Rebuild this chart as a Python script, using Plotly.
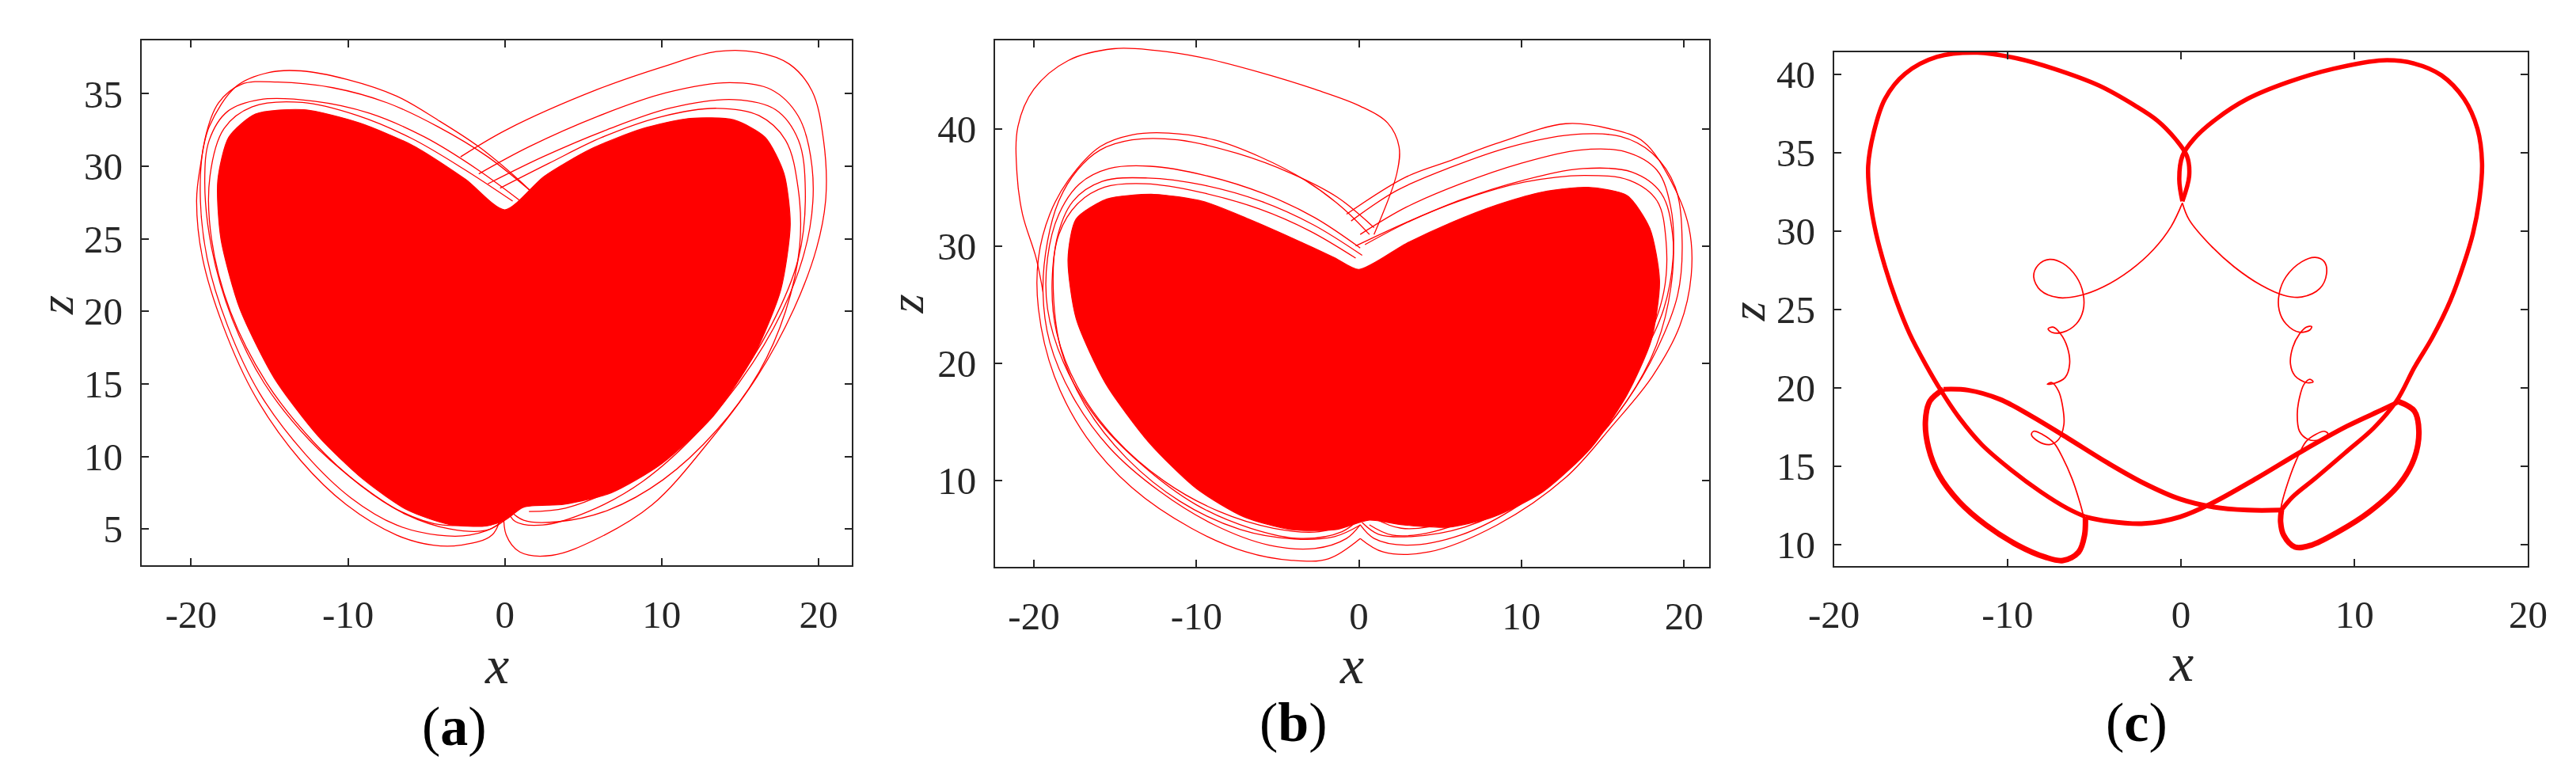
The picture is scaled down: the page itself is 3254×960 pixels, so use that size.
import plotly.graph_objects as go

# ---------------------------------------------------------------------------
# Traced trajectories, (x, z) pairs
# ---------------------------------------------------------------------------

# Panel (a): dense core of the attractor and the outer fringe orbits
a_core = [(0.0, 27.0), (2.5, 29.3), (5.5, 31.2), (8.8, 32.6), (11.8, 33.3), (14.6, 33.2), (16.6, 32.0),
          (17.8, 29.5), (18.2, 26.0), (17.6, 21.5), (15.9, 17.0), (13.3, 12.8), (10.0, 9.5), (6.8, 7.5),
          (3.8, 6.7), (1.2, 6.5), (0.0, 5.6), (-1.2, 5.2), (-3.5, 5.3), (-6.2, 6.3), (-9.0, 8.4),
          (-11.9, 11.4), (-14.7, 15.4), (-16.9, 20.2), (-18.1, 25.0), (-18.3, 29.0), (-17.6, 32.0),
          (-15.9, 33.6), (-12.8, 33.9), (-9.3, 33.0), (-5.8, 31.4), (-2.5, 29.1), (0.0, 27.0)]
a_left0 = [(1.83, 28.1), (0.96, 29.0), (-1.66, 31.35), (-4.28, 33.2), (-6.9, 34.84), (-10.1, 36.0),
           (-13.0, 36.58), (-15.05, 36.47), (-17.09, 35.54), (-18.84, 32.74), (-19.42, 29.95),
           (-19.65, 27.62), (-19.27, 23.66), (-17.96, 19.0), (-15.9, 14.12), (-13.0, 9.7), (-10.1, 6.67),
           (-6.9, 4.58), (-4.57, 3.88), (-2.82, 3.88), (-0.8, 4.6), (-0.06, 6.67)]
a_left1 = [(2.13, 27.85), (-1.08, 30.65), (-4.28, 32.74), (-7.48, 34.37), (-10.98, 35.42), (-14.47, 35.81),
           (-16.8, 35.65), (-18.25, 34.37), (-19.13, 31.81), (-19.42, 28.32), (-18.98, 23.66), (-17.67, 19.0),
           (-15.63, 14.35), (-12.72, 10.16), (-9.81, 7.14), (-6.9, 5.27), (-4.28, 4.58), (-2.24, 4.58),
           (-0.49, 5.27), (0.09, 6.2)]
a_left2 = [(1.54, 27.16), (-1.66, 29.72), (-5.15, 32.04), (-8.65, 33.67), (-12.14, 34.49), (-15.63, 34.6),
           (-17.67, 33.79), (-18.84, 31.81), (-19.13, 29.02), (-18.69, 24.36), (-17.38, 19.47), (-15.34, 15.05),
           (-12.43, 11.09), (-9.52, 8.3), (-6.61, 6.2), (-3.99, 5.27), (-1.66, 5.51), (-0.2, 6.44)]
a_left3 = [(0.5, 27.6), (-2.6, 29.8), (-5.9, 31.9), (-9.4, 33.5), (-12.9, 34.4), (-16.1, 34.1), (-17.9, 32.6),
           (-18.8, 29.3), (-18.7, 25.0), (-17.5, 20.0), (-15.2, 15.1), (-12.2, 11.0), (-9.2, 8.0), (-6.3, 6.0),
           (-3.5, 5.0), (-1.2, 4.9), (0.0, 5.6)]
a_right0 = [(-2.82, 30.65), (0.09, 32.51), (5.91, 35.3), (10.28, 36.93), (13.48, 37.91), (16.1, 37.86),
            (18.14, 37.05), (19.59, 35.19), (20.32, 31.81), (20.47, 27.85), (19.88, 24.36), (18.43, 20.17),
            (16.1, 15.52), (12.9, 10.86), (9.4, 6.67), (5.91, 4.34), (3.0, 3.18), (0.96, 3.41), (0.09, 4.58),
            (-0.06, 6.67)]
a_right1 = [(-1.66, 29.48), (1.54, 31.35), (5.91, 33.44), (10.28, 35.07), (14.35, 35.77), (16.97, 35.3),
            (18.72, 33.44), (19.59, 29.95), (19.45, 25.76), (18.14, 21.1), (15.81, 16.45), (12.61, 12.02),
            (8.82, 8.3), (5.33, 6.2), (2.42, 5.27), (0.67, 5.51), (0.09, 6.44)]
a_right2 = [(-1.08, 28.79), (2.42, 30.65), (6.49, 32.51), (10.57, 34.02), (14.64, 34.6), (17.26, 33.91),
            (18.72, 31.81), (19.16, 28.32), (18.72, 23.66), (16.97, 19.0), (14.35, 14.58), (10.86, 10.63),
            (7.07, 7.83), (3.87, 6.44), (1.54, 6.2)]
a_right3 = [(-0.3, 28.5), (2.8, 30.2), (6.2, 32.0), (9.9, 33.4), (13.5, 34.0), (16.2, 33.5), (17.9, 31.8),
            (18.7, 28.5), (18.8, 24.5), (17.9, 20.0), (16.2, 15.8), (13.5, 11.8), (10.1, 8.4), (6.6, 6.3),
            (3.4, 5.5), (1.2, 5.6), (0.2, 6.4)]

# Panel (b)
b_core = [(0.0, 28.0), (2.9, 30.2), (5.7, 32.0), (8.5, 33.5), (11.3, 34.6), (14.1, 35.0), (16.5, 34.3),
          (17.9, 31.5), (18.5, 27.0), (18.0, 22.0), (16.5, 17.3), (14.3, 12.8), (11.3, 9.0), (8.3, 6.9),
          (5.5, 6.0), (2.7, 6.2), (0.6, 6.6), (-1.4, 5.8), (-4.2, 5.8), (-7.1, 6.9), (-10.0, 9.3),
          (-12.9, 13.2), (-15.6, 18.3), (-17.4, 23.8), (-17.9, 28.9), (-17.4, 32.3), (-15.5, 34.0),
          (-12.6, 34.4), (-9.6, 33.8), (-6.8, 32.3), (-4.0, 30.6), (-1.5, 29.0), (0.0, 28.0)]
b_escape = [(0.93, 30.98), (2.33, 36.17), (2.47, 38.47), (1.77, 40.49), (0.08, 41.93), (-2.72, 43.37),
            (-6.1, 44.81), (-9.75, 46.1), (-12.56, 46.69), (-15.08, 46.83), (-17.89, 45.82), (-20.0, 43.37),
            (-20.98, 40.2), (-21.04, 36.17), (-20.7, 32.71), (-19.86, 28.96), (-19.44, 26.08)]
b_left0 = [(0.65, 30.98), (-1.04, 33.29), (-3.29, 35.59), (-6.1, 37.61), (-8.9, 39.05), (-11.71, 39.63),
           (-13.96, 39.48), (-15.93, 38.47), (-17.89, 35.59), (-19.02, 32.71), (-19.72, 28.96), (-19.72, 24.64),
           (-18.74, 18.88), (-16.77, 13.69), (-13.96, 9.37), (-10.31, 5.91), (-6.94, 3.89), (-4.13, 3.17),
           (-1.88, 3.31), (0.08, 5.04)]
b_left1 = [(0.93, 31.56), (-1.32, 34.15), (-4.13, 36.17), (-7.5, 37.9), (-11.15, 39.05), (-13.96, 39.05),
           (-15.93, 38.18), (-17.33, 36.46), (-18.46, 33.86), (-19.16, 30.4), (-19.44, 26.08), (-19.02, 21.76),
           (-17.61, 17.15), (-15.37, 12.82), (-12.28, 9.08), (-8.9, 6.2), (-5.53, 4.47), (-2.72, 4.18),
           (-0.76, 5.04), (0.08, 6.2)]
b_left2 = [(0.08, 29.83), (-2.72, 32.42), (-5.81, 34.44), (-9.47, 36.02), (-12.84, 36.8), (-15.37, 36.6),
           (-17.19, 35.3), (-18.46, 32.71), (-19.16, 28.96), (-19.16, 24.64), (-18.17, 20.03), (-16.21, 15.42),
           (-13.4, 11.38), (-10.03, 7.93), (-6.66, 5.91), (-3.57, 5.04), (-1.04, 5.62), (0.08, 6.77)]
b_left3 = [(-0.2, 28.96), (-3.01, 31.27), (-6.1, 33.14), (-9.75, 34.58), (-13.12, 35.3), (-15.65, 35.01),
           (-17.33, 33.57), (-18.46, 30.98), (-18.88, 26.95), (-18.6, 22.62), (-17.33, 18.01), (-15.08, 13.69),
           (-11.99, 9.94), (-8.62, 7.35), (-5.25, 5.91), (-2.44, 5.62), (-0.48, 6.48)]
b_left4 = [(0.2, 29.2), (-2.8, 31.8), (-6.0, 33.8), (-9.6, 35.2), (-13.0, 35.8), (-15.8, 35.5), (-17.6, 33.8),
           (-18.6, 30.5), (-18.8, 26.0), (-18.3, 21.0), (-16.8, 16.3), (-14.3, 11.9), (-11.0, 8.2), (-7.3, 5.8),
           (-4.0, 5.0), (-1.5, 5.2), (0.1, 6.2)]
b_right0 = [(-0.76, 32.71), (2.89, 35.88), (5.7, 37.32), (8.51, 38.76), (12.72, 40.43), (15.53, 39.97),
            (17.5, 38.9), (19.19, 35.59), (20.31, 31.56), (20.45, 27.52), (19.75, 23.2), (18.06, 18.88),
            (15.53, 14.55), (12.72, 10.23), (8.51, 6.2), (4.3, 3.89), (1.49, 3.89), (0.08, 5.04)]
b_right1 = [(-0.48, 32.13), (2.33, 34.73), (5.7, 36.74), (9.35, 38.47), (13.01, 39.48), (16.1, 39.34),
            (18.06, 37.9), (19.47, 35.01), (19.89, 30.4), (19.61, 25.79), (18.34, 21.18), (16.38, 16.57),
            (13.57, 11.96), (9.92, 7.93), (6.26, 5.33), (2.89, 4.47), (0.93, 5.04), (0.08, 6.2)]
b_right2 = [(0.08, 30.98), (2.89, 33.29), (6.26, 35.3), (9.92, 37.03), (13.57, 38.18), (16.38, 38.04),
            (18.34, 36.46), (19.19, 33.29), (19.33, 28.96), (18.76, 24.64), (17.22, 20.03), (14.97, 15.42),
            (11.88, 11.1), (8.23, 7.64), (4.58, 5.62), (2.05, 5.33), (0.65, 6.2)]
b_right3 = [(0.37, 30.11), (3.17, 32.13), (6.54, 34.01), (10.2, 35.45), (13.85, 36.02), (16.66, 35.59),
            (18.34, 33.86), (18.9, 30.4), (18.76, 26.08), (17.5, 21.18), (15.53, 16.86), (12.72, 12.54),
            (9.35, 8.79), (5.7, 6.48), (2.61, 5.91), (0.93, 6.77)]
b_right4 = [(-0.2, 30.0), (2.9, 32.0), (6.4, 34.0), (10.1, 35.6), (13.8, 36.6), (16.8, 36.3), (18.6, 34.5),
            (19.3, 31.0), (19.2, 26.5), (18.3, 21.5), (16.5, 16.8), (13.8, 12.3), (10.3, 8.5), (6.5, 6.0),
            (3.2, 5.2), (1.2, 5.4), (0.2, 6.4)]

# Panel (c): periodic orbit (thick) and transient spirals (thin)
c_arc_left = [(0.08, 31.9), (0.47, 33.51), (0.34, 34.79), (-0.31, 35.86), (-1.35, 37.04), (-2.65, 38.01),
              (-4.73, 39.29), (-7.32, 40.36), (-9.4, 41.01), (-11.74, 41.39), (-14.08, 41.11), (-15.9, 40.04),
              (-17.06, 38.44), (-17.71, 36.29), (-18.03, 34.15), (-17.92, 32.01), (-17.58, 29.87),
              (-17.06, 27.72), (-16.42, 25.58), (-15.64, 23.44), (-14.73, 21.51), (-13.82, 19.79),
              (-12.78, 18.08), (-11.48, 16.37), (-9.92, 14.87), (-8.1, 13.37), (-6.55, 12.3), (-5.51, 11.76)]
c_arc_right = [(0.08, 31.9), (-0.1, 33.29), (0.08, 34.79), (0.73, 35.86), (2.03, 37.15), (3.84, 38.44),
               (6.18, 39.51), (8.78, 40.36), (11.64, 40.9), (13.45, 40.69), (15.01, 39.94), (16.31, 38.44),
               (17.09, 36.51), (17.35, 34.36), (17.22, 32.22), (16.83, 29.86), (16.31, 27.94), (15.53, 25.58),
               (14.49, 23.22), (13.45, 21.29), (12.42, 19.15), (11.12, 17.44), (9.56, 15.94), (7.74, 14.22),
               (6.44, 13.04), (5.79, 12.19)]
c_bottom = [(-5.51, 11.76), (-4.21, 11.48), (-2.13, 11.33), (-0.05, 11.76), (1.77, 12.62), (4.36, 14.22),
            (6.96, 15.94), (9.56, 17.54), (11.64, 18.62), (12.55, 19.11)]
c_s_curve = [(-13.69, 19.9), (-12.26, 19.84), (-10.44, 19.26), (-8.62, 18.19), (-6.55, 16.8), (-4.21, 15.19),
             (-2.13, 13.9), (-0.05, 12.89), (1.77, 12.4), (3.84, 12.19), (5.79, 12.19)]
c_ellipse_left = [(-13.69, 19.9), (-14.47, 19.15), (-14.73, 17.87), (-14.55, 16.15), (-13.95, 14.44),
                  (-12.78, 12.72), (-11.22, 11.22), (-9.4, 9.94), (-7.84, 9.19), (-6.81, 8.97), (-5.9, 9.51),
                  (-5.56, 10.58), (-5.51, 11.76)]
c_ellipse_right = [(12.55, 19.11), (13.45, 18.51), (13.71, 17.22), (13.45, 15.51), (12.55, 13.79),
                   (10.86, 12.08), (9.04, 10.79), (7.48, 9.94), (6.57, 9.83), (5.92, 10.58), (5.74, 11.44),
                   (5.79, 12.19)]
c_spiral_left = [(0.08, 31.79), (-0.57, 30.29), (-1.61, 28.79), (-2.91, 27.51), (-4.47, 26.44), (-5.77, 25.9),
                 (-7.06, 25.75), (-8.1, 26.22), (-8.49, 27.08), (-8.23, 27.83), (-7.58, 28.19), (-6.81, 27.94),
                 (-6.03, 27.08), (-5.64, 26.01), (-5.64, 24.94), (-6.03, 24.08), (-6.81, 23.54), (-7.45, 23.54),
                 (-7.66, 23.76), (-7.38, 23.87), (-6.94, 23.44), (-6.55, 22.58), (-6.42, 21.51), (-6.68, 20.65),
                 (-7.32, 20.27), (-7.71, 20.22), (-7.45, 20.33), (-7.06, 19.79), (-6.81, 18.72), (-6.75, 17.65),
                 (-7.06, 16.69), (-7.58, 16.37), (-8.23, 16.58), (-8.62, 17.01), (-8.49, 17.22), (-7.97, 17.01),
                 (-7.32, 16.47), (-6.81, 15.51), (-6.29, 14.22), (-5.9, 12.94), (-5.64, 11.87), (-5.51, 10.58)]
c_spiral_right = [(0.08, 31.79), (0.47, 30.72), (1.77, 29.01), (3.06, 27.72), (4.62, 26.54), (5.92, 25.9),
                  (6.96, 25.79), (8.0, 26.33), (8.39, 27.29), (8.26, 28.04), (7.74, 28.32), (6.96, 28.04),
                  (6.05, 27.08), (5.66, 26.01), (5.66, 24.94), (6.05, 24.08), (6.83, 23.54), (7.43, 23.69),
                  (7.53, 23.91), (7.22, 23.87), (6.83, 23.44), (6.44, 22.58), (6.31, 21.51), (6.57, 20.76),
                  (7.22, 20.33), (7.61, 20.37), (7.43, 20.54), (7.09, 20.22), (6.83, 19.37), (6.7, 18.29),
                  (6.83, 17.22), (7.35, 16.69), (8.0, 16.69), (8.47, 17.05), (8.26, 17.22), (7.74, 17.01),
                  (7.22, 16.58), (6.7, 15.51), (6.18, 14.01), (5.79, 12.51), (5.66, 11.22)]

# Axis ranges and ticks
a_xrange, a_zrange, a_zticks = [-23.16, 22.12], [2.5, 38.7], [5, 10, 15, 20, 25, 30, 35]
b_xrange, b_zrange, b_zticks = [-22.39, 21.55], [2.6, 47.55], [10, 20, 30, 40]
c_xrange, c_zrange, c_zticks = [-20, 20], [8.64, 41.42], [10, 15, 20, 25, 30, 35, 40]
x_ticks = [-20, -10, 0, 10, 20]
x_ticktext = ["-20", "-10", "0", "10", "20"]
panel_labels = ["(<b>a</b>)", "(<b>b</b>)", "(<b>c</b>)"]

##############################################################################################################################################################################

RED = "#ff0000"
INK = "#262626"
FONT = "Liberation Serif, Times New Roman, serif"
W, H = 3254, 960

fig = go.Figure()


def add_path(pts, axis, width, fill=False, smooth=1.0):
    xs = [p[0] for p in pts]
    zs = [p[1] for p in pts]
    fig.add_trace(go.Scatter(x=xs, y=zs, mode="lines", xaxis="x" + axis, yaxis="y" + axis,
                             line=dict(color=RED, width=width, shape="spline", smoothing=smooth),
                             fill="toself" if fill else None, fillcolor=RED if fill else None,
                             hoverinfo="skip", showlegend=False))


# Chaotic attractors (a) and (b)
add_path(a_core, "", 1.2, fill=True, smooth=0.7)
for loop in [a_left0, a_left1, a_left2, a_left3, a_right0, a_right1, a_right2, a_right3]:
    add_path(loop, "", 1.3)

add_path(b_core, "2", 1.2, fill=True, smooth=0.7)
for loop in [b_escape, b_left0, b_left1, b_left2, b_left3, b_left4,
             b_right0, b_right1, b_right2, b_right3, b_right4]:
    add_path(loop, "2", 1.3)

# Periodic orbit (c)
for seg in [c_spiral_left, c_spiral_right]:
    add_path(seg, "3", 1.7)
for seg in [c_arc_left, c_arc_right]:
    add_path(seg, "3", 5.5)
for seg in [c_bottom, c_s_curve]:
    add_path(seg, "3", 6)
for seg in [c_ellipse_left, c_ellipse_right]:
    add_path(seg, "3", 7)

# Axes boxes (pixel positions of the reference panels)
boxes = {"": (140.3, 1053.7, 42.7, 706.7), "2": (1238.0, 2156.4, 42.9, 709.0), "3": (2317.0, 3209.6, 57.9, 707.3)}
ranges = {"": (a_xrange, a_zrange, a_zticks), "2": (b_xrange, b_zrange, b_zticks), "3": (c_xrange, c_zrange, c_zticks)}

axis_style = dict(showgrid=False, zeroline=False, showline=True, linecolor=INK, linewidth=2,
                  mirror="allticks", ticks="inside", ticklen=9, tickwidth=1.6, tickcolor=INK,
                  tickfont=dict(family=FONT, size=49, color=INK))

layout_axes = {}
for key, (x0, x1, y0, y1) in boxes.items():
    xr, zr, zt = ranges[key]
    layout_axes["xaxis" + key] = dict(axis_style, domain=[x0 / W, x1 / W], range=xr, tickvals=x_ticks,
                                      ticktext=x_ticktext, anchor="y" + key, ticklabelstandoff=18)
    layout_axes["yaxis" + key] = dict(axis_style, domain=[1 - y1 / H, 1 - y0 / H], range=zr, tickvals=zt,
                                      ticktext=[str(v) for v in zt], anchor="x" + key, ticklabelstandoff=12)

fig.update_layout(width=W, height=H, autosize=False, margin=dict(l=0, r=0, t=0, b=0),
                  font=dict(family=FONT, color=INK),
                  paper_bgcolor="white", plot_bgcolor="white", **layout_axes)

# Axis titles and panel labels
xlabel_pos = [(597, 833), (1697, 833), (2764, 830)]
zlabel_pos = [(30, 378), (1124, 376), (2206, 386)]
panel_pos = [(543, 910), (1622, 905), (2706, 905)]

for (px, py) in xlabel_pos:
    fig.add_annotation(x=px / W, y=1 - py / H, xref="paper", yref="paper", text="<i>x</i>", showarrow=False,
                       font=dict(family=FONT, size=68, color=INK), xanchor="center", yanchor="middle")
for (px, py) in zlabel_pos:
    fig.add_annotation(x=px / W, y=1 - py / H, xref="paper", yref="paper", text="<i>z</i>", showarrow=False,
                       textangle=-90, font=dict(family=FONT, size=62, color=INK), xanchor="center", yanchor="middle")
for (px, py), lab in zip(panel_pos, panel_labels):
    fig.add_annotation(x=px / W, y=1 - py / H, xref="paper", yref="paper", text=lab, showarrow=False,
                       font=dict(family=FONT, size=70, color="#000000"), xanchor="center", yanchor="middle")

fig.write_html("out.html")
